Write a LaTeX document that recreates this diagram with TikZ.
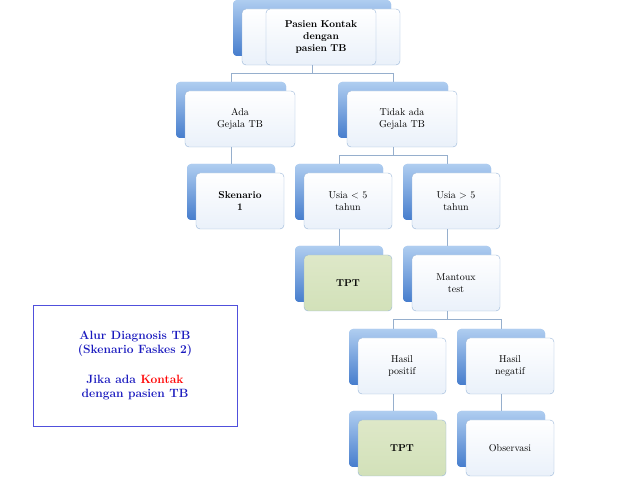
\documentclass[tikz,border=0pt]{standalone}
\begin{document}
\begin{tikzpicture}[x=1pt,y=-1pt,
  back/.style={rounded corners=4pt,top color={rgb,255:red,175;green,205;blue,240},bottom color={rgb,255:red,70;green,125;blue,205},minimum height=56pt,inner sep=0pt,xshift=-9pt,yshift=9pt},
  front/.style={rounded corners=4pt,draw={rgb,255:red,150;green,180;blue,215},top color=white,bottom color={rgb,255:red,234;green,241;blue,250},minimum height=56pt,align=center,inner sep=2pt,text width=80pt},
  greenbox/.style={top color={rgb,255:red,222;green,232;blue,200},bottom color={rgb,255:red,210;green,225;blue,185}},
  conn/.style={draw={rgb,255:red,150;green,175;blue,205},line width=0.8pt}]
\useasboundingbox (0,0) rectangle (638,478);
\newcommand\smbox[5][]{%
  \node[back,minimum width=#4] (#2b) at (#3) {};}
\newcommand\smfront[5][]{%
  \node[front,minimum width=#4,#1] (#2) at (#3) {#5};}
% back nodes (for connectors)
\smbox{root}{321,37}{158pt}{}
\smbox{ada}{240,119}{110pt}{}
\smbox{tidak}{402,119}{110pt}{}
\smbox{sken}{240,201}{88pt}{}
\smbox{ua}{348,201}{88pt}{}
\smbox{ub}{456,201}{88pt}{}
\smbox{tpta}{348,283}{88pt}{}
\smbox{mant}{456,283}{88pt}{}
\smbox{hp}{402,366}{88pt}{}
\smbox{hn}{510,366}{88pt}{}
\smbox{tptb}{402,448}{88pt}{}
\smbox{obs}{510,448}{88pt}{}
% connectors
\draw[conn] (rootb.south) -- ++(0,17) -| (adab.north);
\draw[conn] (rootb.south) -- ++(0,17) -| (tidakb.north);
\draw[conn] (adab.south) -- (skenb.north);
\draw[conn] (tidakb.south) -- ++(0,17) -| (uab.north);
\draw[conn] (tidakb.south) -- ++(0,17) -| (ubb.north);
\draw[conn] (uab.south) -- (tptab.north);
\draw[conn] (ubb.south) -- (mantb.north);
\draw[conn] (mantb.south) -- ++(0,17) -| (hpb.north);
\draw[conn] (mantb.south) -- ++(0,17) -| (hnb.north);
\draw[conn] (hpb.south) -- (tptbb.north);
\draw[conn] (hnb.south) -- (obsb.north);
% redraw backs over connectors
\foreach \n/\p/\w in {root/{321,37}/158pt,ada/{240,119}/110pt,tidak/{402,119}/110pt,sken/{240,201}/88pt,ua/{348,201}/88pt,ub/{456,201}/88pt,tpta/{348,283}/88pt,mant/{456,283}/88pt,hp/{402,366}/88pt,hn/{510,366}/88pt,tptb/{402,448}/88pt,obs/{510,448}/88pt}
  {\node[back,minimum width=\w] at (\p) {};}
% front nodes
\smfront{root}{321,37}{158pt}{\textbf{Pasien Kontak}\\\textbf{dengan pasien TB}}
\node[front,minimum width=110pt] at (321,37) (root) {\textbf{Pasien Kontak}\\\textbf{dengan pasien TB}};
\smfront{ada}{240,119}{110pt}{Ada\\Gejala TB}
\smfront{tidak}{402,119}{110pt}{Tidak ada\\Gejala TB}
\smfront{sken}{240,201}{88pt}{\textbf{Skenario}\\\textbf{1}}
\smfront{ua}{348,201}{88pt}{Usia < 5\\tahun}
\smfront{ub}{456,201}{88pt}{Usia > 5\\tahun}
\smfront[greenbox]{tpta}{348,283}{88pt}{\textbf{TPT}}
\smfront{mant}{456,283}{88pt}{Mantoux\\test}
\smfront{hp}{402,366}{88pt}{Hasil\\positif}
\smfront{hn}{510,366}{88pt}{Hasil\\negatif}
\smfront[greenbox]{tptb}{402,448}{88pt}{\textbf{TPT}}
\smfront{obs}{510,448}{88pt}{Observasi}
% legend box
\node[draw={rgb,255:red,80;green,80;blue,220},line width=0.8pt,minimum width=204pt,minimum height=121pt,align=center,
  text={rgb,255:red,25;green,25;blue,190},font=\large\bfseries] (legend) at (135,365.5)
  {Alur Diagnosis TB\\(Skenario Faskes 2)\\[1.3em]Jika ada \textcolor{red}{Kontak}\\dengan pasien TB};
\end{tikzpicture}
\end{document}
